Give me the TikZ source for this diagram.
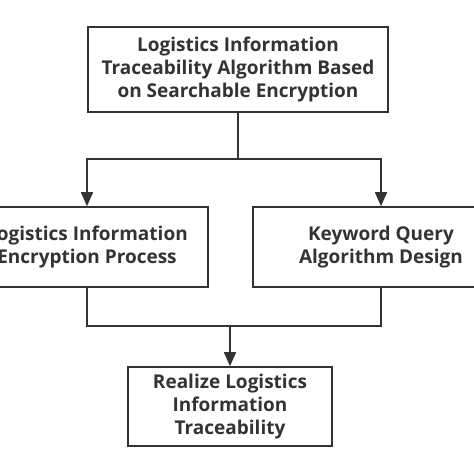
\documentclass[tikz,border=0pt]{standalone}
\usepackage{fontspec}
\setmainfont{Open Sans}
\usetikzlibrary{arrows.meta}
\definecolor{linegray}{HTML}{333333}
\tikzset{
  blk/.style={draw=linegray, line width=1.6pt, text=linegray, align=center, inner sep=0pt,
    font=\bfseries\fontsize{19}{23}\selectfont},
  ln/.style={draw=linegray, line width=1.6pt},
  arr/.style={ln, -{Triangle[width=12pt,length=14pt]}}
}
\begin{document}
\begin{tikzpicture}[x=1pt,y=-1pt]
\useasboundingbox (0,0) rectangle (474,474);
\clip (0,0) rectangle (474,474);
%top block
\node[blk, minimum width=300pt, minimum height=85pt] (top) at (238,69.5)
  {Logistics Information\\Traceability Algorithm Based\\on Searchable Encryption};
%second level
\node[blk, minimum width=242pt, minimum height=80pt] (enc) at (87,247)
  {Logistics Information\\Encryption Process};
\node[blk, minimum width=256pt, minimum height=80pt] (query) at (381,247)
  {Keyword Query\\Algorithm Design};
%result
\node[blk, minimum width=204pt, minimum height=79pt] (real) at (230,406.5)
  {Realize Logistics\\Information\\Traceability};
%connectors
\coordinate (split) at (238,159);
\coordinate (join) at (231,326);
\draw[ln] (top.south) -- (split);
\draw[arr] (split) -| (enc.north);
\draw[arr] (split) -| (query.north);
\draw[ln] (enc.south) |- (query.south |- join) -- (query.south);
\draw[arr] (join) -- (join -| real.north) -- (real.north);
\end{tikzpicture}
\end{document}
